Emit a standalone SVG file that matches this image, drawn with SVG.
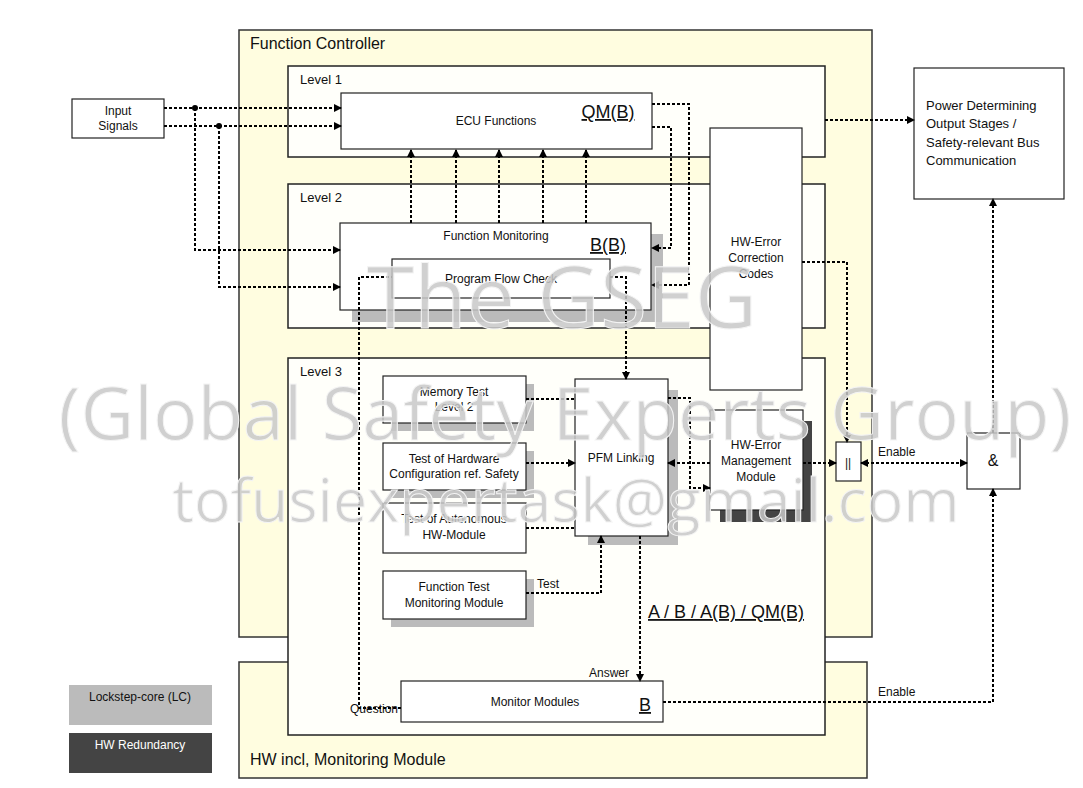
<svg xmlns="http://www.w3.org/2000/svg" width="1083" height="788" viewBox="0 0 1083 788">
<defs>
<marker id="a" markerWidth="8" markerHeight="8" refX="7" refY="4" orient="auto" markerUnits="userSpaceOnUse"><path d="M0,0 L8,4 L0,8 z" fill="#000"/></marker>
<marker id="s" markerWidth="8" markerHeight="8" refX="1" refY="4" orient="auto" markerUnits="userSpaceOnUse"><path d="M8,0 L0,4 L8,8 z" fill="#000"/></marker>
</defs>
<style>
text{font-family:"Liberation Sans",Arial,sans-serif;fill:#111}
.y{fill:#fffde0;stroke:#333;stroke-width:1.5}
.w{fill:#fff;stroke:#222;stroke-width:1.2}
.lv{fill:#fffffa;stroke:#222;stroke-width:1.5}
.sh{fill:#bbb}
.dk{fill:#444}
.c{fill:none;stroke:#000;stroke-width:2;stroke-dasharray:3,2}
.t{font-size:12px}
.u{text-decoration:underline}
.wm{font-family:"Open Sans",sans-serif;fill:#c8c8c8;fill-opacity:0.85;stroke:#f4f4f4;stroke-width:1}
</style>
<rect width="1083" height="788" fill="#fff"/>
<g id="function-controller"><rect class="y" x="239" y="30" width="633" height="607"/><text x="250" y="49" style="font-size:16px">Function Controller</text></g>
<g id="hw-monitoring"><rect class="y" x="239" y="662" width="628" height="116"/><text x="250" y="765" style="font-size:16px">HW incl, Monitoring Module</text></g>
<g id="level1"><rect class="lv" x="288" y="66" width="537" height="91"/><text x="300" y="84" style="font-size:13px">Level 1</text></g>
<g id="level2"><rect class="lv" x="288" y="184" width="537" height="144"/><text x="300" y="202" style="font-size:13px">Level 2</text></g>
<g id="level3"><rect class="lv" x="288" y="358" width="537" height="377"/><text x="300" y="376" style="font-size:13px">Level 3</text></g>
<g id="ecu"><rect class="w" x="341" y="93" width="311" height="56"/><text x="496" y="125" text-anchor="middle" class="t">ECU Functions</text><text x="608" y="118" text-anchor="middle" class="u" style="font-size:18px">QM(B)</text></g>
<g id="function-monitoring"><rect class="sh" x="352" y="234" width="311" height="88"/><rect class="w" x="340" y="223" width="311" height="87"/><text x="496" y="240" text-anchor="middle" class="t">Function Monitoring</text><text x="608" y="251" text-anchor="middle" class="u" style="font-size:18px">B(B)</text></g>
<g id="program-flow-check"><rect class="w" x="392" y="259" width="218" height="39"/><text x="501" y="283" text-anchor="middle" class="t">Program Flow Check</text></g>
<g id="hw-ecc"><rect class="w" x="710" y="128" width="92" height="262"/><text x="756" y="246" text-anchor="middle" class="t">HW-Error</text><text x="756" y="262" text-anchor="middle" class="t">Correction</text><text x="756" y="278" text-anchor="middle" class="t">Codes</text></g>
<g id="memory-test"><rect class="sh" x="391" y="384" width="143" height="47"/><rect class="w" x="383" y="376" width="143" height="47"/><text x="454" y="396" text-anchor="middle" class="t">Memory Test</text><text x="454" y="411" text-anchor="middle" class="t">Level 2</text></g>
<g id="test-hw-config"><rect class="sh" x="391" y="451" width="143" height="47"/><rect class="w" x="383" y="443" width="143" height="47"/><text x="454" y="463" text-anchor="middle" class="t">Test of Hardware</text><text x="454" y="478" text-anchor="middle" class="t">Configuration ref. Safety</text></g>
<g id="test-autonomous"><rect class="w" x="383" y="503" width="143" height="50"/><text x="454" y="523" text-anchor="middle" class="t">Test of Autonomous</text><text x="454" y="539" text-anchor="middle" class="t">HW-Module</text></g>
<g id="function-test"><rect class="sh" x="391" y="579" width="143" height="48"/><rect class="w" x="383" y="571" width="143" height="48"/><text x="454" y="591" text-anchor="middle" class="t">Function Test</text><text x="454" y="607" text-anchor="middle" class="t">Monitoring Module</text></g>
<g id="pfm"><rect class="sh" x="588" y="390" width="90" height="155"/><rect class="w" x="575" y="379" width="93" height="157"/><text x="621" y="462" text-anchor="middle" class="t">PFM Linking</text></g>
<g id="hw-err-mgmt"><rect class="dk" x="720" y="421" width="92" height="101"/><rect class="w" x="710" y="410" width="93" height="100"/><text x="756" y="449" text-anchor="middle" class="t">HW-Error</text><text x="756" y="465" text-anchor="middle" class="t">Management</text><text x="756" y="481" text-anchor="middle" class="t">Module</text></g>
<g id="or"><rect class="w" x="836" y="442" width="25" height="39"/><text x="848" y="467" text-anchor="middle" class="t">||</text></g>
<g id="and"><rect class="w" x="967" y="433" width="53" height="56"/><text x="993" y="466" text-anchor="middle" style="font-size:16px">&amp;</text></g>
<g id="power"><rect class="w" x="914" y="68" width="150" height="131"/><text x="926" y="110" style="font-size:13px">Power Determining</text><text x="926" y="128" style="font-size:13px">Output Stages /</text><text x="926" y="147" style="font-size:13px">Safety-relevant Bus</text><text x="926" y="165" style="font-size:13px">Communication</text></g>
<g id="input"><rect class="w" x="72" y="99" width="92" height="39"/><text x="118" y="115" text-anchor="middle" class="t">Input</text><text x="118" y="130" text-anchor="middle" class="t">Signals</text></g>
<g id="monitor-modules"><rect class="w" x="401" y="681" width="262" height="41"/><text x="535" y="706" text-anchor="middle" class="t">Monitor Modules</text><text x="645" y="711" text-anchor="middle" class="u" style="font-size:18px">B</text></g>
<g id="legend-lc"><rect class="sh" x="69" y="685" width="143" height="40"/><text x="140" y="701" text-anchor="middle" class="t">Lockstep-core (LC)</text></g>
<g id="legend-hw"><rect class="dk" x="69" y="733" width="143" height="40"/><text x="140" y="749" text-anchor="middle" class="t" style="fill:#fff">HW Redundancy</text></g>
<text x="648" y="618" class="u" style="font-size:18px">A / B / A(B) / QM(B)</text>
<g id="connectors">
<path class="c" d="M164,108 H341" marker-end="url(#a)"/>
<path class="c" d="M164,126 H341" marker-end="url(#a)"/>
<path class="c" d="M195,108 V250 H340" marker-end="url(#a)"/>
<path class="c" d="M219,126 V287 H340" marker-end="url(#a)"/>
<circle cx="195" cy="108" r="3"/><circle cx="219" cy="126" r="3"/>
<path class="c" d="M411,223 V150" marker-end="url(#a)"/>
<path class="c" d="M456,223 V150" marker-end="url(#a)"/>
<path class="c" d="M499,223 V150" marker-end="url(#a)"/>
<path class="c" d="M543,223 V150" marker-end="url(#a)"/>
<path class="c" d="M586,223 V150" marker-end="url(#a)"/>
<path class="c" d="M652,127 H671 V248 H652" marker-end="url(#a)"/>
<path class="c" d="M652,104 H689 V285 H652" marker-end="url(#a)"/>
<path class="c" d="M401,708 H359 V277 H392"/>
<path class="c" d="M610,277 H626 V379" marker-end="url(#a)"/>
<path class="c" d="M802,262 H847 V442" marker-end="url(#a)"/>
<path class="c" d="M825,120 H914" marker-end="url(#a)"/>
<path class="c" d="M526,399 H575"/>
<path class="c" d="M668,398 H690 V488 H710" marker-end="url(#a)"/>
<path class="c" d="M526,463 H575" marker-end="url(#a)"/>
<path class="c" d="M710,463 H668" marker-end="url(#a)"/>
<path class="c" d="M803,463 H836" marker-end="url(#a)"/>
<path class="c" d="M861,463 H967" marker-start="url(#s)" marker-end="url(#a)"/>
<path class="c" d="M526,528 H575"/>
<path class="c" d="M526,593 H601 V536" marker-end="url(#a)"/>
<path class="c" d="M640,536 V681" marker-end="url(#a)"/>
<path class="c" d="M663,702 H993 V489" marker-end="url(#a)"/>
<path class="c" d="M993,433 V199" marker-end="url(#a)"/>
<text x="878" y="456" class="t">Enable</text>
<text x="878" y="696" class="t">Enable</text>
<text x="537" y="588" class="t">Test</text>
<text x="589" y="677" class="t">Answer</text>
<text x="350" y="713" class="t">Question</text>
</g>
<g id="watermark">
<text class="wm" x="562" y="328" text-anchor="middle" style="font-size:86px">The GSEG</text>
<text class="wm" x="565" y="440" text-anchor="middle" style="font-size:74px">(Global Safety Experts Group)</text>
<text class="wm" x="566" y="522" text-anchor="middle" style="font-size:61px">tofusiexpertask@gmail.com</text>
</g>
</svg>
